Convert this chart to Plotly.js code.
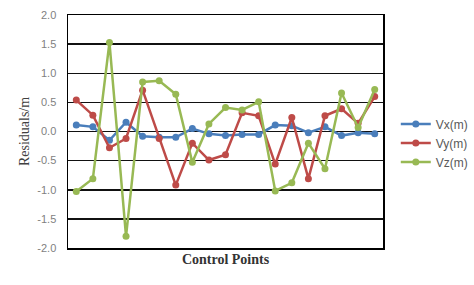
<!DOCTYPE html>
<html>
<head>
<meta charset="utf-8">
<script src="https://cdn.plot.ly/plotly-3.0.1.min.js"></script>
<style>html,body{margin:0;padding:0;background:#fff;}#chart{width:474px;height:285px;}</style>
</head>
<body>
<div id="chart"></div>
<script>
var points = [1,2,3,4,5,6,7,8,9,10,11,12,13,14,15,16,17,18,19];
var vx = [0.11,0.08,-0.15,0.16,-0.08,-0.10,-0.10,0.05,-0.04,-0.07,-0.05,-0.05,0.11,0.10,-0.02,0.08,-0.07,-0.02,-0.04];
var vy = [0.54,0.28,-0.28,-0.12,0.71,-0.12,-0.92,-0.20,-0.49,-0.40,0.32,0.27,-0.56,0.24,-0.81,0.27,0.39,0.14,0.60];
var vz = [-1.03,-0.81,1.53,-1.80,0.85,0.87,0.64,-0.53,0.13,0.41,0.37,0.51,-1.02,-0.88,-0.20,-0.64,0.66,0.07,0.72];
var seriesNames = ['Vx(m)','Vy(m)','Vz(m)'];
var yTicks = [-2,-1.5,-1,-0.5,0,0.5,1,1.5,2];
var yTickText = ['-2.0','-1.5','-1.0','-0.5','0.0','0.5','1.0','1.5','2.0'];
var colors = ['#4A7EBB','#BE4B48','#98B954'];

var data = [vx, vy, vz].map(function(v, i){
  return {
    x: points, y: v, name: seriesNames[i], type: 'scatter', mode: 'lines+markers',
    line: {color: colors[i], width: 2.5},
    marker: {color: colors[i], size: 7}
  };
});

var layout = {
  width: 474, height: 285,
  margin: {l: 68, r: 91, t: 15, b: 37},
  paper_bgcolor: '#fff', plot_bgcolor: '#fff',
  showlegend: true,
  legend: {xref: 'container', yref: 'container', x: 0.835, y: 0.498, xanchor: 'left', yanchor: 'middle',
    font: {family: 'Liberation Sans, Arial', size: 12, color: '#595959'},
    bgcolor: 'rgba(0,0,0,0)', itemwidth: 30},
  xaxis: {
    range: [0.5, 19.5], showticklabels: false, ticks: '', showgrid: false, zeroline: false,
    showline: true, linecolor: '#000', linewidth: 1.5, mirror: true,
    title: {text: '<b>Control Points</b>', font: {family: 'Liberation Serif, Times New Roman', size: 14, color: '#333'}, standoff: 5}
  },
  yaxis: {
    range: [-2, 2], tickvals: yTicks, ticktext: yTickText,
    tickfont: {family: 'Liberation Sans, Arial', size: 11, color: '#7f7f7f'},
    ticklabelstandoff: 8,
    showgrid: true, gridcolor: '#111', gridwidth: 1.5,
    zeroline: true, zerolinecolor: '#111', zerolinewidth: 1.5,
    showline: true, linecolor: '#000', linewidth: 1.5, mirror: true, ticks: '',
    title: {text: 'Residuals/m', font: {family: 'Liberation Serif, Times New Roman', size: 14, color: '#404040'}, standoff: 4}
  },
  shapes: [{type: 'rect', xref: 'paper', yref: 'paper', x0: -0.25, x1: 1.3, y0: 1.065, y1: 1.1, fillcolor: '#e6e6e6', line: {width: 0}}]
};

Plotly.newPlot('chart', data, layout, {displayModeBar: false, staticPlot: true});
</script>
</body>
</html>
